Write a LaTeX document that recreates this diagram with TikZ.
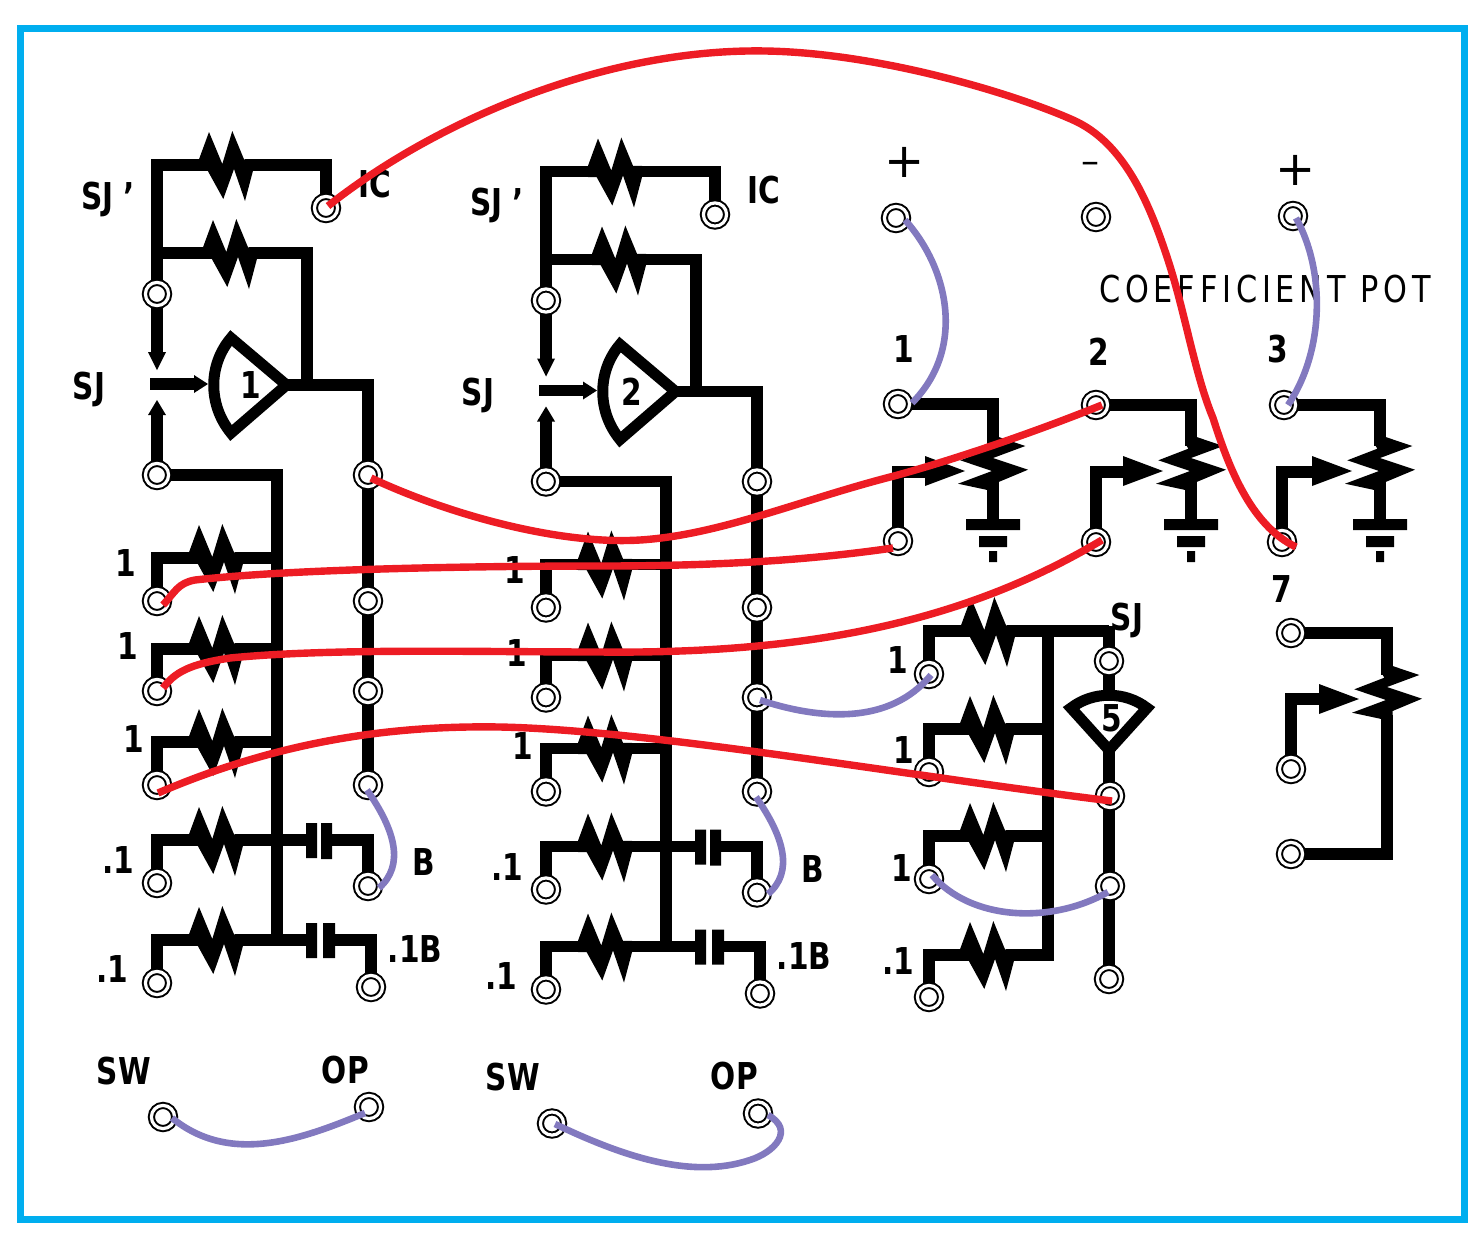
\documentclass[tikz,border=0pt]{standalone}
\usepackage{fontspec}
\setmainfont{DejaVu Sans}[FakeStretch=0.8]
\newfontfamily\wide{DejaVu Sans}[LetterSpace=3,FakeStretch=0.8]
\newfontfamily\coef{DejaVu Sans}[LetterSpace=13,FakeStretch=0.82]
\newfontfamily\plainsym{DejaVu Sans}
\usetikzlibrary{backgrounds}
\definecolor{framecol}{HTML}{00AEEF}
\definecolor{redwire}{HTML}{ED1C24}
\definecolor{purplewire}{HTML}{8279BF}
\tikzset{
  wire/.style={line width=5.7pt,line join=miter,miter limit=10,line cap=butt},
  term/.style={circle,draw=black,line width=1pt,double=white,double distance=1.6pt,fill=white,minimum size=11.6pt,inner sep=0pt,outer sep=0pt},
  lab/.style={font=\bfseries\fontsize{18.5}{20}\selectfont,inner sep=0pt},
  labw/.style={font=\wide\bfseries\fontsize{18.5}{20}\selectfont,inner sep=0pt},
  red/.style={draw=redwire,line width=3.7pt,line cap=butt},
  pur/.style={draw=purplewire,line width=3.3pt,line cap=butt},
  res/.pic={\fill[white] (-1.3,-6.2) rectangle (36,6.2);
    \fill (-10,-5.7) -- (0,-33) -- (13.3,-1) -- (23.3,-34) -- (35,-5.7) -- (44,-5.7) -- (44,5.7) -- (36,36) -- (25,4) -- (14.3,34) -- (-1.3,5.7) -- (-10,5.7) -- cycle;},
  potzig/.pic={\fill (5.6,-9) -- (32.3,0) -- (0,12) -- (35,23.7) -- (5.6,36) -- (5.6,45) -- (-5.6,45) -- (-5.6,44) -- (-35,37.7) -- (-1,25) -- (-32.7,14.3) -- (-2.7,2.7) -- (-5.6,-2.3) -- (-5.6,-9) -- cycle;},
  headR/.pic={\fill (0,-15) -- (40,0) -- (0,15) -- cycle;},
  ground/.pic={\fill (-27,0) rectangle (27,11) (-14,17) rectangle (14,28) (-4,32) rectangle (4,43);}
}
% one operational amplifier module, drawn at its first position and shifted
\newcommand{\opmodule}[3]{%
  \node[term] (#1ic) at (326,208) {};
  \node[term] (#1fb) at (157,294) {};
  \node[term] (#1in) at (157,475) {};
  \node[term] (#1o1) at (368,475) {};
  \node[term] (#1o2) at (368,601) {};
  \node[term] (#1o3) at (368,691) {};
  \node[term] (#1o4) at (368,785) {};
  \node[term] (#1b) at (368,886) {};
  \node[term] (#1i1) at (157,601) {};
  \node[term] (#1i2) at (157,691) {};
  \node[term] (#1i3) at (157,785) {};
  \node[term] (#1i4) at (157,883) {};
  \node[term] (#1i5) at (157,983) {};
  \node[term] (#1bb) at (371,987) {};
  \node[term] (#1sw) at (163,1117) {};
  \node[term] (#1op) at (369,1107) {};
  \coordinate (#1tip) at (288,385);
  \node[lab] (#1num) at (#3,385) {#2};
  \node[lab] (#1lsjp) at (108,199) {SJ ’};
  \node[lab] (#1lic) at (375,184) {IC};
  \node[lab] (#1lsj) at (89,389) {SJ};
  \node[lab] (#1l1) at (126,563) {1};
  \node[lab] (#1l2) at (128,646) {1};
  \node[lab] (#1l3) at (134,739) {1};
  \node[lab] (#1l4) at (118,860) {.1};
  \node[lab] (#1l5) at (112,969) {.1};
  \node[lab] (#1lb) at (424,862) {B};
  \node[lab] (#1lbb) at (415,949) {.1B};
  \node[labw] (#1lsw) at (124,1071) {SW};
  \node[labw] (#1lop) at (345,1070) {OP};
  \begin{pgfonlayer}{background}
    \draw[wire] (#1fb.center) -- (157,165) -| (#1ic.center);
    \draw[wire] (157,253) -| (307,385);
    \draw[wire] (#1tip) -| (#1o4.center);
    \draw[wire] (#1fb.center) -- (157,354);
    \fill (148,352) -- (166,352) -- (157,370) -- cycle;
    \draw[wire] (150,384) -- (196,384);
    \fill (194,375) -- (208,384) -- (194,393) -- cycle;
    \draw[wire] (#1in.center) -- (157,413);
    \fill (148,415) -- (166,415) -- (157,400) -- cycle;
    \draw[wire] (#1in.center) -| (277,940);
    \draw[wire] (#1i1.center) |- (277,558);
    \draw[wire] (#1i2.center) |- (277,649);
    \draw[wire] (#1i3.center) |- (277,742);
    \draw[wire] (#1i4.center) |- (310,840);
    \draw[wire] (#1i5.center) |- (310,940);
    \pic at (209,165) {res};
    \pic at (213,253) {res};
    \pic at (199,558) {res};
    \pic at (199,649) {res};
    \pic at (199,742) {res};
    \pic at (199,840) {res};
    \pic at (199,940) {res};
    \fill (306,823) rectangle (317,858) (321,823) rectangle (332,859);
    \fill (306,923) rectangle (317,958) (323,923) rectangle (335,958);
    \draw[wire] (#1b.center) |- (330,840);
    \draw[wire] (#1bb.center) |- (330,940);
    \draw[line width=5.5pt,miter limit=10] (231,338) .. controls (208,365) and (208,405) .. (231,433) -- (286.5,385) -- cycle;
  \end{pgfonlayer}
}
\newcommand{\potgnd}[2]{% prefix, wire x
  \begin{pgfonlayer}{background}
    \draw[wire] (#1a.center) -| (#2,446);
    \pic at (#2,446) {potzig};
    \draw[wire] (#2,480) -- (#2,520);
    \pic at (#2,519) {ground};
    \draw[wire] (#1w.center) |- (#2-50,472);
    \pic at (#2-68,471) {headR};
  \end{pgfonlayer}
}
\begin{document}
\begin{tikzpicture}[x=0.5pt,y=-0.5pt]
\useasboundingbox (0,0) rectangle (1472,1233);
\begin{pgfonlayer}{background}
  \draw[framecol,line width=3.5pt] (20,28) rectangle (1464,1219);
\end{pgfonlayer}

\opmodule{a}{1}{251}
\begin{scope}[shift={(389,6.5)}]
\opmodule{b}{2}{243}
\end{scope}

% coefficient pots
\node[term] (ptop1) at (896,218) {};
\node[term] (ptop2) at (1096,217) {};
\node[term] (ptop3) at (1293,216) {};
\node[term] (p1a) at (898,404) {};
\node[term] (p1w) at (898,541) {};
\node[term] (p2a) at (1096,405) {};
\node[term] (p2w) at (1096,542) {};
\node[term] (p3a) at (1284,405) {};
\node[term] (p3w) at (1282,542) {};
\potgnd{p1}{993}
\potgnd{p2}{1191}
\potgnd{p3}{1380}

\node[font=\plainsym\fontsize{24}{26}\selectfont,inner sep=0pt] (lplus1) at (905,162) {+};
\node[font=\plainsym\fontsize{18}{20}\selectfont,inner sep=0pt] (lminus) at (1090,168) {–};
\node[font=\plainsym\fontsize{24}{26}\selectfont,inner sep=0pt] (lplus2) at (1296,170) {+};
\node[lab] (lp1) at (904,349) {1};
\node[lab] (lp2) at (1099,352) {2};
\node[lab] (lp3) at (1278,349) {3};
\node[lab] (lp7) at (1282,589) {7};
\node[font=\coef\fontsize{18.5}{20}\selectfont,inner sep=0pt] (lcoef) at (1265,289) {COEFFICIENT POT};

% pot 7
\node[term] (p7a) at (1291,633) {};
\node[term] (p7w) at (1291,769) {};
\node[term] (p7b) at (1291,854) {};
\begin{pgfonlayer}{background}
  \draw[wire] (p7a.center) -| (1387,675);
  \pic at (1387,675) {potzig};
  \draw[wire] (1387,715) |- (p7b.center);
  \draw[wire] (p7w.center) |- (1325,699);
  \pic at (1319,699) {headR};
\end{pgfonlayer}

% summer 5
\node[term] (s1) at (929,674) {};
\node[term] (s2) at (929,772) {};
\node[term] (s3) at (929,879) {};
\node[term] (s4) at (929,997) {};
\node[term] (so0) at (1109,661) {};
\node[term] (so1) at (1110,796) {};
\node[term] (so2) at (1110,886) {};
\node[term] (so3) at (1109,979) {};
\node[lab] (snum) at (1112,718) {5};
\node[lab] (ls1) at (898,660) {1};
\node[lab] (ls2) at (904,750) {1};
\node[lab] (ls3) at (902,868) {1};
\node[lab] (ls4) at (898,961) {.1};
\node[lab] (lssj) at (1127,620) {SJ};
\begin{pgfonlayer}{background}
  \draw[wire] (s1.center) |- (1109,631);
  \draw[wire] (s2.center) |- (1048,729);
  \draw[wire] (s3.center) |- (1048,836);
  \draw[wire] (s4.center) |- (1053.5,955);
  \draw[wire] (1048,631) -- (1048,955);
  \pic at (971,631) {res};
  \pic at (970,729) {res};
  \pic at (970,836) {res};
  \pic at (970,955) {res};
  \draw[wire] (1109,625.5) -- (so0.center) -- (1109,696);
  \draw[wire] (1109,750) -- (1109,979);
  \draw[line width=5.5pt,miter limit=10] (1071,708) .. controls (1093,691) and (1125,691) .. (1147,708) -- (1109,750) -- cycle;
\end{pgfonlayer}

% patch wires, purple
\draw[pur] (905,220) .. controls (950,270) and (965,350) .. (912,403);
\draw[pur] (1296,218) .. controls (1325,270) and (1325,350) .. (1288,405);
\draw[pur] (367,790) .. controls (395,830) and (405,865) .. (379,888);
\draw[pur] (756,797) .. controls (784,837) and (794,872) .. (768,894);
\draw[pur] (172,1118) .. controls (230,1165) and (300,1140) .. (365,1113);
\draw[pur] (555,1124) .. controls (620,1155) and (690,1180) .. (750,1160) .. controls (775,1152) and (795,1130) .. (768,1115);
\draw[pur] (760,700) .. controls (820,720) and (890,725) .. (931,675);
\draw[pur] (932,875) .. controls (970,920) and (1050,925) .. (1108,892);

% patch wires, red
\draw[red] (328,206) .. controls (430,125) and (600,48) .. (766,51) .. controls (880,53) and (1015,94) .. (1073,120) .. controls (1125,143) and (1150,205) .. (1168,260) .. controls (1185,312) and (1195,375) .. (1213,418) .. controls (1228,465) and (1250,525) .. (1296,547);
\draw[red] (371,478) .. controls (450,515) and (560,545) .. (640,540) .. controls (720,535) and (800,500) .. (894,476) .. controls (960,458) and (1040,430) .. (1102,405);
\draw[red] (163,605) .. controls (175,592) and (178,583) .. (195,580) .. controls (300,568) and (500,566) .. (600,566) .. controls (720,566) and (810,560) .. (893,548);
\draw[red] (163,688) .. controls (175,672) and (190,664) .. (230,658) .. controls (330,648) and (480,652) .. (600,652) .. controls (800,654) and (960,625) .. (1102,540);
\draw[red] (158,793) .. controls (270,745) and (380,725) .. (500,727) .. controls (650,730) and (900,775) .. (1112,801);
\end{tikzpicture}
\end{document}
